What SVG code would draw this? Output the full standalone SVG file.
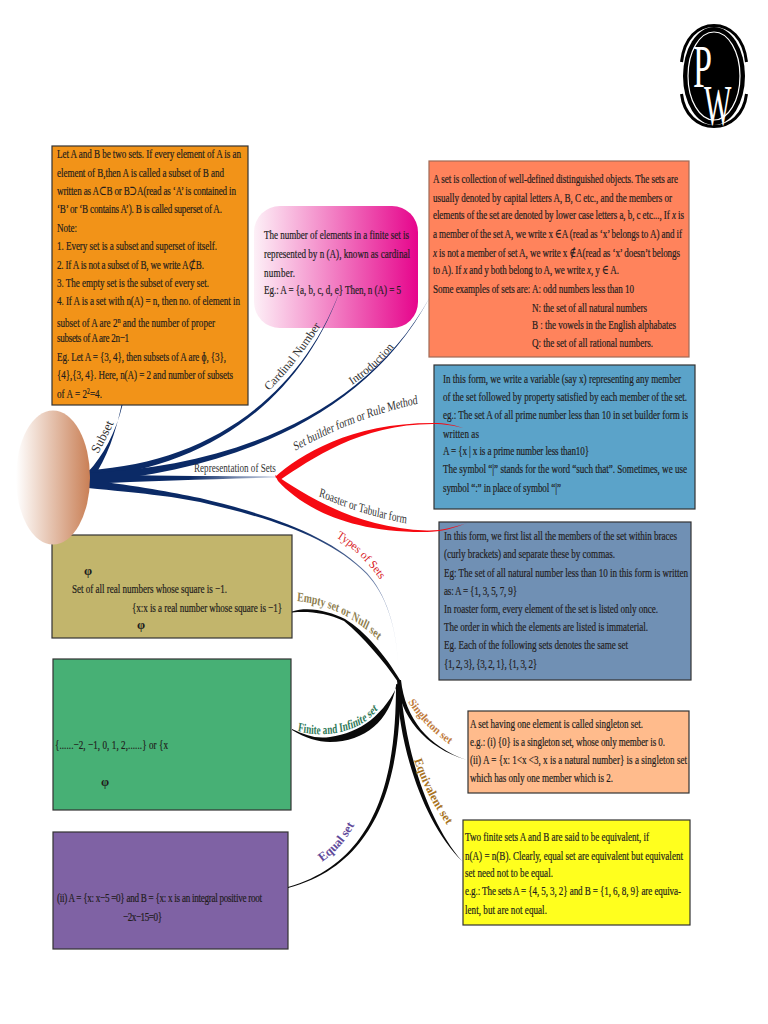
<svg xmlns="http://www.w3.org/2000/svg" width="768" height="1024" viewBox="0 0 768 1024">
<style>
.t{font-family:"Liberation Serif","DejaVu Serif",serif;font-size:13px;fill:#221c1c;stroke:#221c1c;stroke-width:.2}
.p{font-family:"Liberation Serif","DejaVu Serif",serif;font-size:13px;font-weight:bold;fill:#221c1c;text-anchor:middle}
.l{font-family:"Liberation Serif","DejaVu Serif",serif;font-size:13px;fill:#333}
.b{font-weight:bold}
.box{stroke:#333;stroke-width:1.2}
.navy{fill:#0b2a66}
.blk{fill:#0a0a0a}
.red{fill:#f60a12}
.lg{font-family:"Liberation Serif",serif;fill:#fff}
</style>
<defs>
<linearGradient id="gp" x1="0" x2="1" y1="0" y2="0"><stop offset="0" stop-color="#fdf0f7"/><stop offset="1" stop-color="#e6058c"/></linearGradient>
<linearGradient id="ge" x1="0" x2="1" y1="0" y2="0"><stop offset="0" stop-color="#ffffff"/><stop offset="1" stop-color="#c97f55"/></linearGradient>
<linearGradient id="gr" gradientUnits="userSpaceOnUse" x1="190" y1="0" x2="275" y2="0"><stop offset="0" stop-color="#0b2a66"/><stop offset="1" stop-color="#c9d2e4"/></linearGradient>
<linearGradient id="gty" gradientUnits="userSpaceOnUse" x1="300" y1="520" x2="399" y2="670"><stop offset="0" stop-color="#0b2a66"/><stop offset="1" stop-color="#c3cde2"/></linearGradient>
<path id="pSub" d="M98,454 Q108,436 116,418 L122,406"/>
<path id="pCar" d="M269,391 Q300,360 325,319 L335,300"/>
<path id="pInt" d="M352,385 Q378,368 395,346 L405,332"/>
<path id="pSet" d="M393.300,451 Q466.700,420 549.300,405 L600,398"/>
<path id="pRoa" d="M443,496 Q493,513 562,523 L610,530"/>
<path id="pTyp" d="M336,537 Q360,552 379,578 L388,592"/>
<path id="pEmp" d="M396,601 Q456,606 501.300,638 L530,662"/>
<path id="pFin" d="M425.700,731 C457,738 514,735 541.400,708 L565,680"/>
<path id="pSin" d="M408,702 Q425,728 452,746 L470,756"/>
<path id="pEqv" d="M414,760 Q428,800 452,832 L462,846"/>
<path id="pEqu" d="M322,862 Q342,848 354,826 L362,811"/>
</defs>
<rect width="768" height="1024" fill="#fff"/>

<g id="subset">
<rect class="box" x="52" y="146" width="196" height="259" fill="#f29318"/>
<g transform="translate(57 0) scale(.7 1)">
<text class="t" y="158" textLength="262.900">Let A and B be two sets. If every element of A is an</text>
<text class="t" y="177" textLength="238.600">element of B,then A is called a subset of B and</text>
<text class="t" y="195" textLength="255.700">written as A⊂B or B⊃A(read as ‘A’ is contained in</text>
<text class="t" y="213" textLength="235.700">‘B’ or ‘B contains A’). B is called superset of A.</text>
<text class="t" y="232" textLength="28.600">Note:</text>
<text class="t" y="250" textLength="228.600">1. Every set is a subset and superset of itself.</text>
<text class="t" y="269" textLength="210">2. If A is not a subset of B, we write A⊄B.</text>
<text class="t" y="287" textLength="217.100">3. The empty set is the subset of every set.</text>
<text class="t" y="305" textLength="261.400">4. If A is a set with n(A) = n, then no. of element in</text>
<text class="t" y="327" textLength="225.700">subset of A are 2<tspan dy="-4" font-size="9">n</tspan><tspan dy="4"> and the number of proper</tspan></text>
<text class="t" y="342" textLength="102.900">subsets of A are 2n−1</text>
<text class="t" y="361" textLength="241.400">Eg. Let A = {3, 4}, then subsets of A are ɸ, {3},</text>
<text class="t" y="379" textLength="251.400">{4},{3, 4}. Here, n(A) = 2 and number of subsets</text>
<text class="t" y="398" textLength="64.300">of A = 2<tspan dy="-4" font-size="8">2</tspan><tspan dy="4">=4.</tspan></text>
</g>
</g>

<g id="cardinal">
<rect x="254" y="206" width="164" height="122" rx="26" fill="url(#gp)"/>
<g transform="translate(264 0) scale(.7 1)">
<text class="t" y="239" textLength="207.100">The number of elements in a finite set is</text>
<text class="t" y="258" textLength="208.600">represented by n (A), known as cardinal</text>
<text class="t" y="277" textLength="44.300">number.</text>
<text class="t" y="294" textLength="195.700">Eg.: A = {a, b, c, d, e} Then, n (A) = 5</text>
</g>
</g>

<g id="introduction">
<rect x="429" y="161" width="260" height="196" fill="#ff835c" stroke="#a06a55" stroke-width="1.200"/>
<g transform="translate(433 0) scale(.7 1)">
<text class="t" y="183" textLength="350">A set is collection of well-defined distinguished objects. The sets are</text>
<text class="t" y="202" textLength="341.400">usually denoted by capital letters A, B, C etc., and the members or</text>
<text class="t" y="219" textLength="358.600">elements of the set are denoted by lower case letters a, b, c etc..., If <tspan font-style="italic">x</tspan> is</text>
<text class="t" y="238" textLength="355.700">a member of the set A, we write x ∈A (read as ‘x’ belongs to A) and if</text>
<text class="t" y="257" textLength="352.900"><tspan font-style="italic">x</tspan> is not a member of set A, we write x ∉A(read as ‘x’ doesn’t belongs</text>
<text class="t" y="274" textLength="265.700">to A). If <tspan font-style="italic">x</tspan> and y both belong to A, we write <tspan font-style="italic">x</tspan>, y ∈ A.</text>
<text class="t" y="293" textLength="287.100">Some examples of sets are: A: odd numbers less than 10</text>
<text class="t" x="141.400" y="312" textLength="164.300">N: the set of all natural numbers</text>
<text class="t" x="141.400" y="329" textLength="205.700">B : the vowels in the English alphabates</text>
<text class="t" x="141.400" y="347" textLength="172.900">Q: the set of all rational numbers.</text>
</g>
</g>

<g id="set-builder">
<rect class="box" x="434" y="365" width="261" height="144" fill="#5ba3c9"/>
<g transform="translate(443 0) scale(.7 1)">
<text class="t" y="383" textLength="340">In this form, we write a variable (say x) representing any member</text>
<text class="t" y="401" textLength="348.600">of the set followed by property satisfied by each member of the set.</text>
<text class="t" y="419" textLength="350">eg.: The set A of all prime number less than 10 in set builder form is</text>
<text class="t" y="438" textLength="51.400">written as</text>
<text class="t" y="455" textLength="208.600">A = {x | x is a prime number less than10}</text>
<text class="t" y="473" textLength="348.600">The symbol “|” stands for the word “such that”. Sometimes, we use</text>
<text class="t" y="492" textLength="168.600">symbol “:” in place of symbol “|”</text>
</g>
</g>

<g id="roaster">
<rect class="box" x="439" y="522" width="252" height="158" fill="#7090b4"/>
<g transform="translate(444 0) scale(.7 1)">
<text class="t" y="540" textLength="332.900">In this form, we first list all the members of the set within braces</text>
<text class="t" y="558" textLength="244.300">(curly brackets) and separate these by commas.</text>
<text class="t" y="577" textLength="348.600">Eg: The set of all natural number less than 10 in this form is written</text>
<text class="t" y="595" textLength="104.300">as: A = {1, 3, 5, 7, 9}</text>
<text class="t" y="613" textLength="305.700">In roaster form, every element of the set is listed only once.</text>
<text class="t" y="631" textLength="291.400">The order in which the elements are listed is immaterial.</text>
<text class="t" y="649" textLength="262.900">Eg. Each of the following sets denotes the same set</text>
<text class="t" y="668" textLength="132.900">{1, 2, 3}, {3, 2, 1}, {1, 3, 2}</text>
</g>
</g>

<g id="empty-set">
<rect class="box" x="52" y="535" width="240" height="103" fill="#c2b56c"/>
<text class="p" x="88" y="575">φ</text>
<g transform="translate(72 0) scale(.7 1)">
<text class="t" y="593" textLength="221.400">Set of all real numbers whose square is −1.</text>
<text class="t" x="85.700" y="612" textLength="214.300">{x:x is a real number whose square is −1}</text>
</g>
<text class="p" x="141" y="629">φ</text>
</g>

<g id="finite-infinite">
<rect class="box" x="53" y="659" width="238" height="151" fill="#47b075"/>
<g transform="translate(55 0) scale(.7 1)">
<text class="t" y="749" textLength="161.400">{......−2, −1, 0, 1, 2,......} or {x</text>
</g>
<text class="p" x="105" y="786">φ</text>
</g>

<g id="equal-set">
<rect class="box" x="53" y="832" width="235" height="117" fill="#7f62a4"/>
<g transform="translate(57 0) scale(.7 1)">
<text class="t" y="902" textLength="292.900">(ii) A = {x: x−5 =0} and B = {x: x is an integral positive root</text>
<text class="t" x="94.300" y="921" textLength="55.700">−2x−15=0}</text>
</g>
</g>

<g id="singleton">
<rect class="box" x="468" y="711" width="221" height="82" fill="#ffbb8c"/>
<g transform="translate(470 0) scale(.7 1)">
<text class="t" y="728" textLength="247.100">A set having one element is called singleton set.</text>
<text class="t" y="746" textLength="278.600">e.g.: (i) {0} is a singleton set, whose only member is 0.</text>
<text class="t" y="764" textLength="310">(ii) A = {x: 1&lt;x &lt;3, x is a natural number} is a singleton set</text>
<text class="t" y="782" textLength="204.300">which has only one member which is 2.</text>
</g>
</g>

<g id="equivalent">
<rect class="box" x="463" y="820" width="227" height="105" fill="#ffff1e"/>
<g transform="translate(465 0) scale(.7 1)">
<text class="t" y="841" textLength="262.900">Two finite sets A and B are said to be equivalent, if</text>
<text class="t" y="860" textLength="311.400">n(A) = n(B). Clearly, equal set are equivalent but equivalent</text>
<text class="t" y="877" textLength="125.700">set need not to be equal.</text>
<text class="t" y="895" textLength="308.600">e.g.: The sets A = {4, 5, 3, 2} and B = {1, 6, 8, 9} are equiva-</text>
<text class="t" y="914" textLength="117.100">lent, but are not equal.</text>
</g>
</g>

<g id="connectors">
<path class="navy" d="M88,472 C103,456 116,432 122.500,405 L121.500,405 C116,432 107,458 92,480 Z"/>
<path class="navy" d="M88,470 C210,463 305,394 343,282 C305.500,396.500 211,467 88,478 Z"/>
<path class="navy" d="M88,473 C230,467 365,415 430,297 C366,417 231,471 88,482 Z"/>
<path fill="url(#gr)" d="M88,474 C150,476 220,476 275,476.500 L275,477.500 C220,479 150,481 88,484 Z"/>
<path fill="url(#gty)" d="M88,480 C140,486 170,492 200,498 C270,515 330,535 367,573 C385,593 398,625 399,680 C398,625 385,594 366.500,574 C330,537 270,518 200,502 C170,496 140,493 88,488 Z"/>
<path class="red" d="M275,477 C300,455 350,423 433,423 C445,423 455,425 463,428 C455,426 445,424 433,424 C360,424 310,460 280,480 Z"/>
<path class="red" d="M275,475 C300,490 350,528 427,530.500 C440,531 455,527 467,523 C455,528 440,532 427,532 C345,533 300,505 278,481 Z"/>
<path class="blk" d="M292,611.500 C310,606 330,612 345,619 C365,631 385,655 400,680 L398,682 C384,661 363,637 344,621 C326,613 310,611 292,612.500 Z"/>
<path class="blk" d="M400,680 C385,715 360,733 330,737 C315,739 305,735 292,729 L292,730 C305,738 318,742 330,742 C365,742 390,720 396,686 Z"/>
<path class="blk" d="M396,684 C396,760 385,860 288,887 L288,888 C388,862 400,760 400.500,686 Z"/>
<path class="blk" d="M397,680 C399,715 425,748 467,760 C428,747 405,718 401,680 Z"/>
<path class="blk" d="M397,685 C399,750 425,825 462,861 C428,822 405,750 400.500,685 Z"/>
<text class="l" font-size="13.500"><textPath href="#pSub">Subset</textPath></text>
<text class="l" style="font-size:12px"><textPath href="#pCar">Cardinal Number</textPath></text>
<text class="l" style="font-size:11.500px"><textPath href="#pInt">Introduction</textPath></text>
<text class="l" transform="scale(.75 1)"><textPath href="#pSet">Set builder form or Rule Method</textPath></text>
<text class="l" transform="translate(194 472) scale(.7 1)">Representation of Sets</text>
<text class="l" transform="scale(.72 1)"><textPath href="#pRoa">Roaster or Tabular form</textPath></text>
<text class="l" style="fill:#d8201f;font-size:11.500px"><textPath href="#pTyp">Types of Sets</textPath></text>
<text class="l b" style="fill:#8f7f50" transform="scale(.75 1)"><textPath href="#pEmp">Empty set or Null set</textPath></text>
<text class="l b" style="fill:#2f7a58" transform="scale(.7 1)"><textPath href="#pFin">Finite and Infinite set</textPath></text>
<text class="l b" style="fill:#c07a3a;font-size:11px"><textPath href="#pSin">Singleton set</textPath></text>
<text class="l b" style="fill:#a8741f;font-size:12px"><textPath href="#pEqv">Equivalent set</textPath></text>
<text class="l b" style="fill:#5f4a9a;font-size:12.500px"><textPath href="#pEqu">Equal set</textPath></text>
</g>

<g id="root">
<ellipse cx="53" cy="477.500" rx="37" ry="67" fill="url(#ge)"/>
</g>

<g id="logo">
<path d="M681.500,62 C684,38 698,25.500 714,25.500 C730,25.500 744,38 746.500,62" fill="none" stroke="#000" stroke-width="3"/>
<path d="M681.500,94 C684,115 698,126.500 714,126.500 C730,126.500 744,115 746.500,94" fill="none" stroke="#000" stroke-width="3"/>
<ellipse cx="714" cy="76" rx="31" ry="49" fill="#000"/>
<ellipse cx="714" cy="76" rx="26" ry="44" fill="none" stroke="#fff" stroke-width="1.200"/>
<text class="lg" transform="translate(693 87) scale(.55 1)" font-size="62">P</text>
<text class="lg" transform="translate(704 125) scale(.5 1)" font-size="58">W</text>
</g>
</svg>
